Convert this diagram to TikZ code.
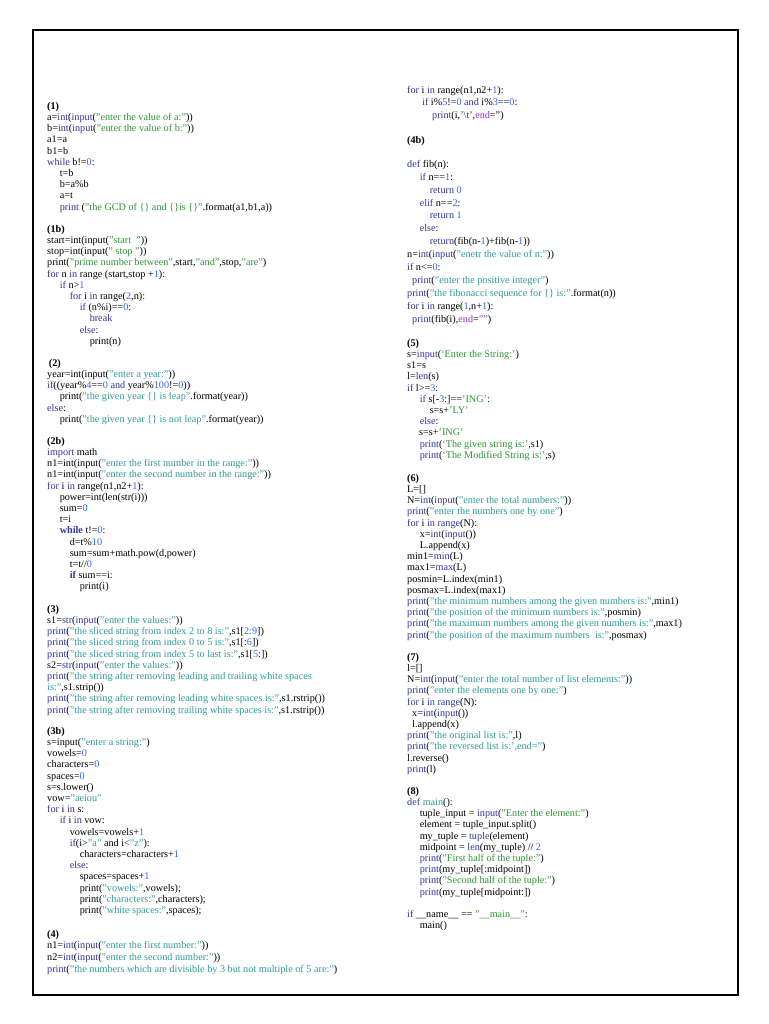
\documentclass[tikz,border=0pt]{standalone}
\usepackage{fontspec}
\setmainfont{Liberation Serif}
\definecolor{kwc}{HTML}{333399}
\definecolor{stc}{HTML}{2E9A9A}
\definecolor{sgc}{HTML}{2F9435}
\definecolor{nmc}{HTML}{3366FF}
\definecolor{puc}{HTML}{9933BB}
\newcommand{\kw}[1]{\textcolor{kwc}{#1}}
\newcommand{\st}[1]{\textcolor{stc}{#1}}
\newcommand{\sg}[1]{\textcolor{sgc}{#1}}
\newcommand{\nm}[1]{\textcolor{nmc}{#1}}
\newcommand{\pu}[1]{\textcolor{puc}{#1}}
\newcommand{\I}[1]{\hspace*{#1\dimexpr 10pt\relax}}
\begin{document}
\begin{tikzpicture}[x=1pt,y=-1pt,
  code/.style={anchor=north west,inner sep=0pt,align=left,font=\fontsize{10.2}{11.2}\selectfont},
  wide/.style={font=\fontsize{10.2}{12.9}\selectfont}]
\useasboundingbox (0,0) rectangle (768,1024);
\draw[line width=1.1pt] (33,30) rectangle (738,995);
% left column
\node[code] (s1) at (47,102) {\textbf{(1)}\\
a=\kw{int}(\kw{input}(\sg{"enter the value of a:"}))\\
b=\kw{int}(\kw{input}(\sg{"enter the value of b:"}))\\
a1=a\\
b1=b\\
\kw{while} b!=\nm{0}:\\
\I1 t=b\\
\I1 b=a\%b\\
\I1 a=t\\
\I1 \kw{print} (\sg{"the GCD of \{\} and \{\}is \{\}"}.format(a1,b1,a))};
\node[code] (s1b) at (47,225) {\textbf{(1b)}\\
start=int(input(\sg{"start~~"}))\\
stop=int(input(\sg{" stop "}))\\
print(\sg{"prime number between"},start,\sg{"and"},stop,\sg{"are"})\\
\kw{for} n \kw{in} range (start,stop +\nm{1}):\\
\I1 \kw{if} n>\nm{1}\\
\I2 \kw{for} i \kw{in} range(\nm{2},n):\\
\I3 \kw{if} (n\%i)==\nm{0}:\\
\I4 \kw{break}\\
\I3 \kw{else}:\\
\I4 print(n)};
\node[code] (s2) at (47,359) {\,\textbf{(2)}\\
year=int(input(\st{"enter a year:"}))\\
\kw{if}((year\%\nm{4}==\nm{0} \kw{and} year\%\nm{100}!=\nm{0}))\\
\I1 print(\st{"the given year \{\} is leap"}.format(year))\\
\kw{else}:\\
\I1 print(\st{"the given year \{\} is not leap"}.format(year))};
\node[code] (s2b) at (47,437) {\textbf{(2b)}\\
\kw{import} math\\
n1=int(input(\st{"enter the first number in the range:"}))\\
n1=int(input(\st{"enter the second number in the range:"}))\\
\kw{for} i \kw{in} range(n1,n2+\nm{1}):\\
\I1 power=int(len(str(i)))\\
\I1 sum=\nm{0}\\
\I1 t=i\\
\I1 \textbf{\kw{while}} t!=\nm{0}:\\
\I2 d=t\%\nm{10}\\
\I2 sum=sum+math.pow(d,power)\\
\I2 t=t//\nm{0}\\
\I2 \textbf{\kw{if}} sum==i:\\
\I3 print(i)};
\node[code] (s3) at (47,605) {\textbf{(3)}\\
s1=\kw{str}(\kw{input}(\st{"enter the values:"}))\\
\kw{print}(\st{"the sliced string from index 2 to 8 is:"},s1[\nm{2:9}])\\
\kw{print}(\st{"the sliced string from index 0 to 5 is:"},s1[:\nm{6}])\\
\kw{print}(\st{"the sliced string from index 5 to last is:"},s1[\nm{5}:])\\
s2=\kw{str}(\kw{input}(\st{"enter the values:"}))\\
\kw{print}(\st{"the string after removing leading and trailing white spaces}\\
\st{is:"},s1.strip())\\
\kw{print}(\st{"the string after removing leading white spaces is:"},s1.rstrip())\\
\kw{print}(\st{"the string after removing trailing white spaces is:"},s1.rstrip())};
\node[code] (s3b) at (47,727) {\textbf{(3b)}\\
s=input(\st{"enter a string:"})\\
vowels=\nm{0}\\
characters=\nm{0}\\
spaces=\nm{0}\\
s=s.lower()\\
vow=\st{"aeiou"}\\
\kw{for} i \kw{in} s:\\
\I1 \kw{if} i \kw{in} vow:\\
\I2 vowels=vowels+\nm{1}\\
\I2 \kw{if}(i>\st{"a"} and i<\st{"z"}):\\
\I3 characters=characters+\nm{1}\\
\I2 \kw{else}:\\
\I3 spaces=spaces+\nm{1}\\
\I3 print(\st{"vowels:"},vowels);\\
\I3 print(\st{"characters:"},characters);\\
\I3 print(\st{"white spaces:"},spaces);};
\node[code,font=\fontsize{10.2}{11.7}\selectfont] (s4) at (47,930) {\textbf{(4)}\\
n1=\kw{int}(\kw{input}(\st{"enter the first number:"}))\\
n2=\kw{int}(\kw{input}(\st{"enter the second number:"}))\\
\kw{print}(\st{"the numbers which are divisible by 3 but not multiple of 5 are:"})};
% right column
\node[code,font=\fontsize{10.2}{12.5}\selectfont] (s4c) at (407,86) {\kw{for} i \kw{in} range(n1,n2+\nm{1}):\\
\hspace*{15pt}\kw{if} i\%\nm{5}!=\nm{0} \kw{and} i\%\nm{3}==\nm{0}:\\
\hspace*{25pt}\kw{print}(i,\kw{'\textbackslash t'},\pu{end}='')};
\node[code] (s4b) at (407,136) {\textbf{(4b)}};
\node[code,wide] (sfib) at (407,160) {\kw{def} fib(n):\\
\I1 \kw{if} n==\nm{1}:\\
\I2 \kw{return} \nm{0}\\
\I1 \kw{elif} n==\nm{2}:\\
\I2 \kw{return} \nm{1}\\
\I1 \kw{else}:\\
\I2 \kw{return}(fib(n-\nm{1})+fib(n-\nm{1}))\\
n=\kw{int}(\kw{input}(\st{"enetr the value of n:"}))\\
\kw{if} n<=\nm{0}:\\
\hspace*{5pt}\kw{print}(\st{"enter the positive integer"})\\
\kw{print}(\st{"the fibonacci sequence for \{\} is:"}.format(n))\\
\kw{for} i \kw{in} range(\nm{1},n+\nm{1}):\\
\hspace*{5pt}\kw{print}(fib(i),\pu{end}=\pu{""})};
\node[code] (s5) at (407,339) {\textbf{(5)}\\
s=\kw{input}(\sg{`Enter the String:'})\\
s1=s\\
l=\kw{len}(s)\\
\kw{if} l>=\nm{3}:\\
\I1 \kw{if} s[-\nm{3}:]==\sg{'ING'}:\\
\I2 s=s+\sg{'LY'}\\
\I1 \kw{else}:\\
\hspace*{12pt}s=s+\sg{'ING'}\\
\I1 \kw{print}(\sg{`The given string is:'},s1)\\
\I1 \kw{print}(\sg{`The Modified String is:'},s)};
\node[code] (s6) at (407,474) {\textbf{(6)}\\
L=[]\\
N=\kw{int}(\kw{input}(\st{"enter the total numbers:"}))\\
\kw{print}(\st{"enter the numbers one by one"})\\
\kw{for} i \kw{in} \kw{range}(N):\\
\I1 x=\kw{int}(\kw{input}())\\
\I1 L.append(x)\\
min1=\kw{min}(L)\\
max1=\kw{max}(L)\\
posmin=L.index(min1)\\
posmax=L.index(max1)\\
\kw{print}(\st{"the minimum numbers among the given numbers is:"},min1)\\
\kw{print}(\st{"the position of the minimum numbers is:"},posmin)\\
\kw{print}(\st{"the maximum numbers among the given numbers is:"},max1)\\
\kw{print}(\st{"the position of the maximum numbers~ is:"},posmax)};
\node[code] (s7) at (407,653) {\textbf{(7)}\\
l=[]\\
N=\kw{int}(\kw{input}(\st{"enter the total number of list elements:"}))\\
\kw{print}(\st{"enter the elements one by one:"})\\
\kw{for} i \kw{in} \kw{range}(N):\\
\hspace*{5pt}x=\kw{int}(\kw{input}())\\
\hspace*{5pt}l.append(x)\\
\kw{print}(\st{"the original list is:"},l)\\
\kw{print}(\st{"the reversed list is:',end="})\\
l.reverse()\\
\kw{print}(l)};
\node[code] (s8) at (407,787) {\textbf{(8)}\\
\kw{def} \st{main}():\\
\I1 tuple\_input = \kw{input}(\sg{"Enter the element:"})\\
\I1 element = tuple\_input.split()\\
\I1 my\_tuple = \kw{tuple}(element)\\
\I1 midpoint = \kw{len}(my\_tuple) // \nm{2}\\
\I1 \kw{print}(\sg{"First half of the tuple:"})\\
\I1 \kw{print}(my\_tuple[:midpoint])\\
\I1 \kw{print}(\sg{"Second half of the tuple:"})\\
\I1 \kw{print}(my\_tuple[midpoint:])};
\node[code] (smain) at (407,910) {\kw{if} \_\_name\_\_ == \sg{"\_\_main\_\_"}:\\
\I1 main()};
\end{tikzpicture}
\end{document}
